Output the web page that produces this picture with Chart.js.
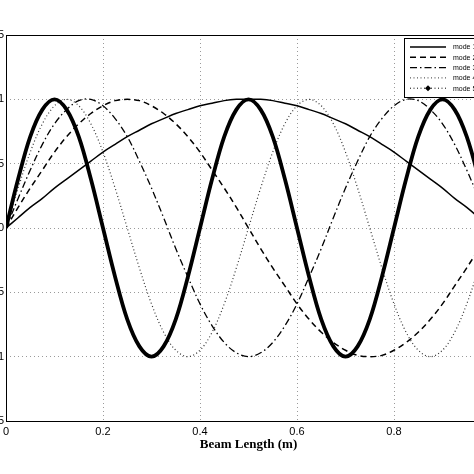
<!DOCTYPE html>
<html>
<head>
<meta charset="utf-8">
<script src="https://cdn.jsdelivr.net/npm/chart.js@4"></script>
<style>
  html, body { margin: 0; padding: 0; background: #fff; }
  #wrap { position: relative; width: 474px; height: 474px; overflow: hidden; background: #fff; }
  #modeChart { position: absolute; left: -40px; top: 0; }
</style>
</head>
<body>
<div id="wrap">
  <canvas id="modeChart" width="540" height="474"></canvas>
</div>
<script>
// beam positions (m)
const beamX = [0, 0.025, 0.05, 0.075, 0.1, 0.125, 0.15, 0.175, 0.2, 0.225, 0.25, 0.275, 0.3, 0.325, 0.35, 0.375,
  0.4, 0.425, 0.45, 0.475, 0.5, 0.525, 0.55, 0.575, 0.6, 0.625, 0.65, 0.675, 0.7, 0.725, 0.75, 0.775,
  0.8, 0.825, 0.85, 0.875, 0.9, 0.925, 0.95, 0.975, 1];

// mode shapes
const mode1 = [0, 0.08, 0.16, 0.23, 0.31, 0.38, 0.45, 0.52, 0.59, 0.65, 0.71, 0.76, 0.81, 0.85, 0.89, 0.92,
  0.95, 0.97, 0.99, 1, 1, 1, 0.99, 0.97, 0.95, 0.92, 0.89, 0.85, 0.81, 0.76, 0.71, 0.65,
  0.59, 0.52, 0.45, 0.38, 0.31, 0.23, 0.16, 0.08, 0];
const mode2 = [0, 0.16, 0.31, 0.45, 0.59, 0.71, 0.81, 0.89, 0.95, 0.99, 1, 0.99, 0.95, 0.89, 0.81, 0.71,
  0.59, 0.45, 0.31, 0.16, 0, -0.16, -0.31, -0.45, -0.59, -0.71, -0.81, -0.89, -0.95, -0.99, -1, -0.99,
  -0.95, -0.89, -0.81, -0.71, -0.59, -0.45, -0.31, -0.16, 0];
const mode3 = [0, 0.23, 0.45, 0.65, 0.81, 0.92, 0.99, 1, 0.95, 0.85, 0.71, 0.52, 0.31, 0.08, -0.16, -0.38,
  -0.59, -0.76, -0.89, -0.97, -1, -0.97, -0.89, -0.76, -0.59, -0.38, -0.16, 0.08, 0.31, 0.52, 0.71, 0.85,
  0.95, 1, 0.99, 0.92, 0.81, 0.65, 0.45, 0.23, 0];
const mode4 = [0, 0.31, 0.59, 0.81, 0.95, 1, 0.95, 0.81, 0.59, 0.31, 0, -0.31, -0.59, -0.81, -0.95, -1,
  -0.95, -0.81, -0.59, -0.31, 0, 0.31, 0.59, 0.81, 0.95, 1, 0.95, 0.81, 0.59, 0.31, 0, -0.31,
  -0.59, -0.81, -0.95, -1, -0.95, -0.81, -0.59, -0.31, 0];
const mode5 = [0, 0.38, 0.71, 0.92, 1, 0.92, 0.71, 0.38, 0, -0.38, -0.71, -0.92, -1, -0.92, -0.71, -0.38,
  0, 0.38, 0.71, 0.92, 1, 0.92, 0.71, 0.38, 0, -0.38, -0.71, -0.92, -1, -0.92, -0.71, -0.38,
  0, 0.38, 0.71, 0.92, 1, 0.92, 0.71, 0.38, 0];

const modeLabels = ['mode 1', 'mode 2', 'mode 3', 'mode 4', 'mode 5'];
const yTicks = [-1.5, -1, -0.5, 0, 0.5, 1, 1.5];
const xTicks = [0, 0.2, 0.4, 0.6, 0.8, 1];

function toPoints(values) {
  return values.map((v, i) => ({ x: beamX[i], y: v }));
}

// axes box (matlab style)
const boxPlugin = {
  id: 'box',
  afterDatasetsDraw(chart) {
    const a = chart.chartArea;
    const ctx = chart.ctx;
    ctx.save();
    ctx.strokeStyle = '#000';
    ctx.lineWidth = 1;
    ctx.strokeRect(a.left + 0.5, a.top + 0.5, a.right - a.left, a.bottom - a.top);
    ctx.restore();
  }
};

// legend box inside the plot, top right
const insideLegend = {
  id: 'insideLegend',
  afterDraw(chart) {
    const a = chart.chartArea;
    const ctx = chart.ctx;
    const left = a.left + 398;
    const top = a.top + 3;
    ctx.save();
    ctx.fillStyle = '#fff';
    ctx.fillRect(left, top, 110, 59);
    ctx.strokeStyle = '#000';
    ctx.lineWidth = 1;
    ctx.strokeRect(left + 0.5, top + 0.5, 110, 59);
    ctx.font = '7px "Liberation Sans", Arial, sans-serif';
    ctx.textBaseline = 'middle';
    chart.data.datasets.forEach((ds, i) => {
      const y = top + 9 + i * 10.3;
      ctx.strokeStyle = ds.borderColor;
      ctx.lineWidth = ds.legendWidth;
      ctx.setLineDash(ds.legendDash);
      ctx.beginPath();
      ctx.moveTo(left + 6, y);
      ctx.lineTo(left + 42, y);
      ctx.stroke();
      ctx.setLineDash([]);
      if (ds.legendMarker) {
        ctx.fillStyle = '#000';
        ctx.beginPath();
        ctx.moveTo(left + 24, y - 3);
        ctx.lineTo(left + 27, y);
        ctx.lineTo(left + 24, y + 3);
        ctx.lineTo(left + 21, y);
        ctx.closePath();
        ctx.fill();
      }
      ctx.fillStyle = '#000';
      ctx.fillText(ds.label, left + 49, y + 0.5);
    });
    ctx.restore();
  }
};

const ctx = document.getElementById('modeChart').getContext('2d');

new Chart(ctx, {
  type: 'line',
  data: {
    datasets: [
      {
        label: modeLabels[0],
        data: toPoints(mode1),
        borderColor: '#000',
        borderWidth: 1.5,
        legendWidth: 1.5,
        legendDash: [],
        order: 2
      },
      {
        label: modeLabels[1],
        data: toPoints(mode2),
        borderColor: '#000',
        borderWidth: 1.5,
        borderDash: [6, 4],
        legendWidth: 1.5,
        legendDash: [6, 4],
        order: 3
      },
      {
        label: modeLabels[2],
        data: toPoints(mode3),
        borderColor: '#000',
        borderWidth: 1.3,
        borderDash: [7, 3, 1.5, 3],
        legendWidth: 1.3,
        legendDash: [7, 3, 1.5, 3],
        order: 4
      },
      {
        label: modeLabels[3],
        data: toPoints(mode4),
        borderColor: '#333',
        borderWidth: 1.2,
        borderDash: [1, 2.5],
        legendWidth: 1,
        legendDash: [1, 2.5],
        order: 5
      },
      {
        label: modeLabels[4],
        data: toPoints(mode5),
        borderColor: '#000',
        borderWidth: 3.8,
        legendWidth: 1,
        legendDash: [1, 2.5],
        legendMarker: true,
        order: 1
      }
    ]
  },
  options: {
    responsive: false,
    animation: false,
    devicePixelRatio: 1,
    layout: { padding: { left: 0, right: 9, top: 35, bottom: 22 } },
    elements: {
      point: { radius: 0 },
      line: { tension: 0.35, fill: false }
    },
    plugins: {
      legend: { display: false },
      tooltip: { enabled: false }
    },
    scales: {
      x: {
        type: 'linear',
        min: 0,
        max: 1,
        afterFit(scale) { scale.height = 31; },
        afterBuildTicks(scale) { scale.ticks = xTicks.map(v => ({ value: v })); },
        grid: { color: '#9a9a9a', drawTicks: false, lineWidth: 1 },
        border: { display: false, dash: [1, 3] },
        ticks: {
          padding: 4,
          color: '#000',
          font: { family: '"Liberation Sans", Arial, sans-serif', size: 11 },
          callback(v) { return String(v); }
        },
        title: {
          display: true,
          text: 'Beam Length (m)',
          color: '#000',
          padding: { top: 1, bottom: 0 },
          font: { family: '"Liberation Serif", "Times New Roman", serif', size: 13, weight: 'bold' }
        }
      },
      y: {
        min: -1.5,
        max: 1.5,
        afterFit(scale) { scale.width = 46; },
        afterBuildTicks(scale) { scale.ticks = yTicks.map(v => ({ value: v })); },
        grid: { color: '#9a9a9a', drawTicks: false, lineWidth: 1 },
        border: { display: false, dash: [1, 3] },
        ticks: {
          padding: 2,
          color: '#000',
          font: { family: '"Liberation Sans", Arial, sans-serif', size: 11 },
          callback(v) { return String(v); }
        }
      }
    }
  },
  plugins: [boxPlugin, insideLegend]
});
</script>
</body>
</html>
